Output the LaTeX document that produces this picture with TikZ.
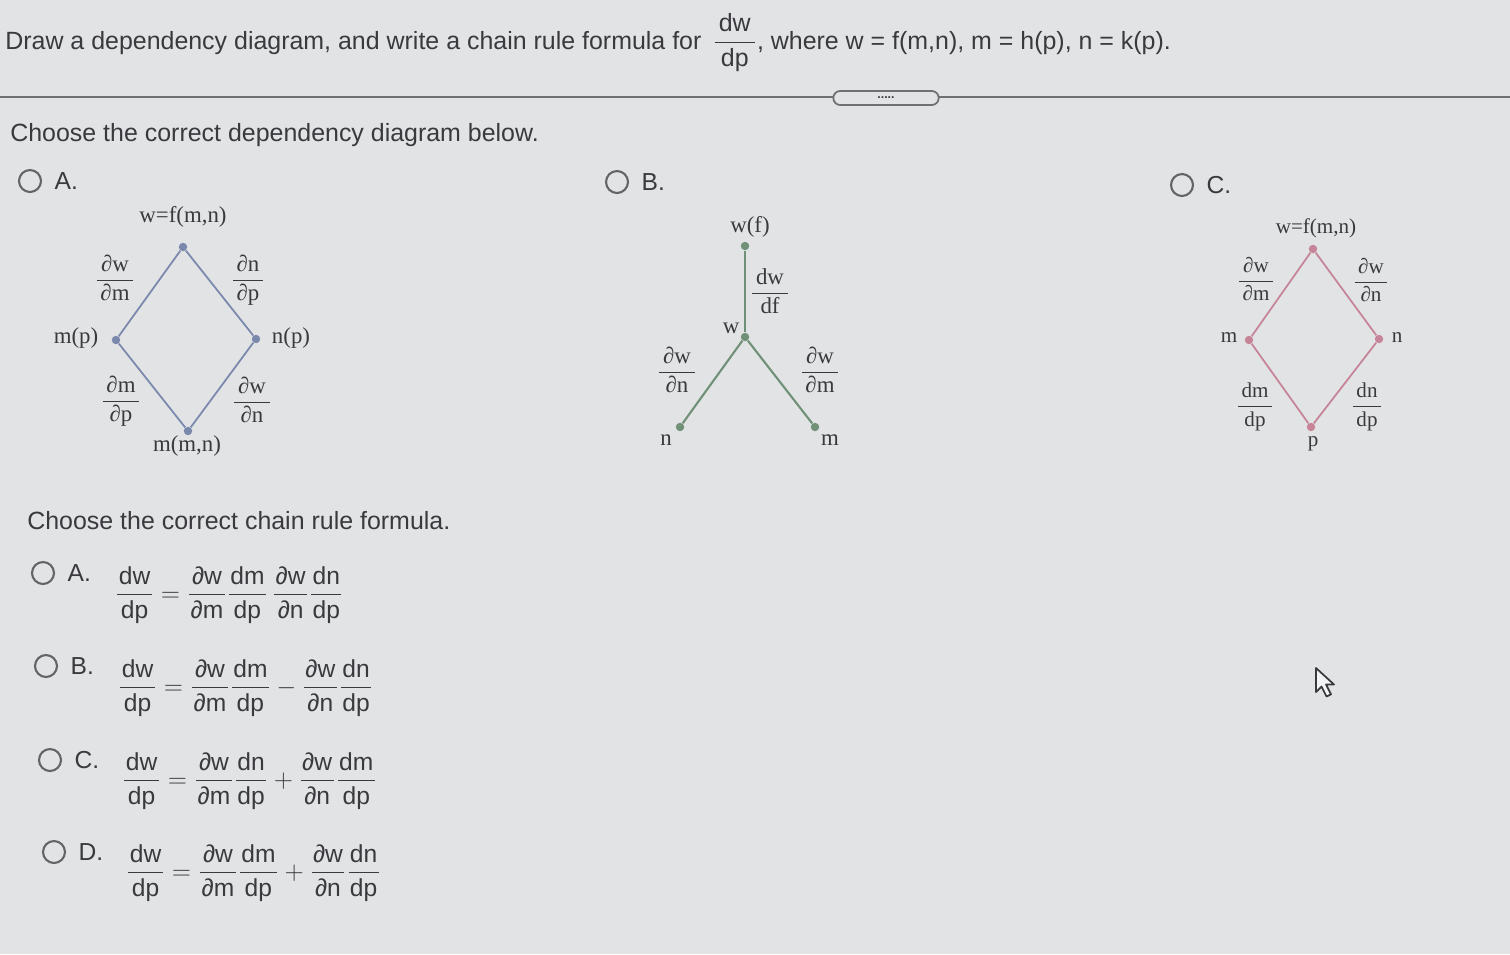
\documentclass[tikz,border=0pt]{standalone}
\usepackage{amsmath}
\usepackage{fontspec}
\setmainfont{Liberation Sans}
\newfontfamily\serfont{Liberation Serif}
\usetikzlibrary{positioning}
\definecolor{bgcol}{RGB}{226,227,229}
\definecolor{ink}{RGB}{58,58,62}
\definecolor{rulecol}{RGB}{112,112,115}
\definecolor{radiocol}{RGB}{100,100,104}
\definecolor{acol}{RGB}{122,136,172}
\definecolor{bcol}{RGB}{112,145,120}
\definecolor{ccol}{RGB}{198,132,152}
\newcommand{\fr}[2]{\ensuremath{\genfrac{}{}{0.5pt}{0}{\mbox{#1}}{\mbox{#2}}}}
\newcommand{\dfr}[2]{\fr{\,#1\,}{\,#2\,}}
\newcommand{\ffr}[2]{\fr{\kern0.8pt#1\kern0.8pt}{\kern0.8pt#2\kern0.8pt}}
\tikzstyle{every node}=[text=ink, inner sep=0pt]
\tikzstyle{txt}=[font=\fontsize{14.2}{17}\selectfont, anchor=base west]
\tikzstyle{radio}=[circle, draw=radiocol, line width=1.2pt, minimum size=12.5pt]
\tikzstyle{optlbl}=[font=\fontsize{14}{17}\selectfont, anchor=west]
\tikzstyle{formula}=[font=\fontsize{14}{17}\selectfont, anchor=west]
\tikzstyle{lbl}=[font=\serfont\fontsize{13}{15}\selectfont]
\tikzstyle{smlbl}=[font=\serfont\fontsize{12}{14}\selectfont]
\tikzstyle{dot}=[circle, fill, minimum size=4.8pt]

\begin{document}
\begin{tikzpicture}[x=0.02cm, y=-0.02cm]
% Background
    \fill[bgcol] (0,0) rectangle (1510,954);
    \useasboundingbox (0,0) rectangle (1510,954);
% Question
    \node[txt] (question) at (5,49) {Draw a dependency diagram, and write a chain rule formula for \,$\dfr{dw}{dp}$, where w = f(m,n), m = h(p), n = k(p).};
    \coordinate (ruleL) at (0,97);
    \coordinate (ruleR) at (1510,97);
    \draw[rulecol, line width=1.2pt] (ruleL) -- (ruleR);
    \node[draw=rulecol, fill=bgcol, line width=1pt, rounded corners=4pt, minimum width=60pt, minimum height=8pt, font=\scriptsize\bfseries] (more) at (886,98) {.....};
% Diagram choices
    \node[txt] (choosediag) at (10,141) {Choose the correct dependency diagram below.};
    \node[radio] (rA) at (30,181) {};
    \node[optlbl, right=7pt of rA] (lA) {A.};
    \node[radio] (rB) at (617,182) {};
    \node[optlbl, right=7pt of rB] (lB) {B.};
    \node[radio] (rC) at (1182,185) {};
    \node[optlbl, right=7pt of rC] (lC) {C.};
% Diagram A
    \node[dot, acol] (Atop) at (183,247) {};
    \node[dot, acol] (Aleft) at (116,340) {};
    \node[dot, acol] (Aright) at (256,339) {};
    \node[dot, acol] (Abot) at (188,431) {};
    \draw[acol, line width=1pt] (Atop) -- (Aleft) -- (Abot) -- (Aright) -- (Atop);
    \node[lbl] (Atoplbl) at (183,217) {w=f(m,n)};
    \node[lbl] (Aleftlbl) at (76,338) {m(p)};
    \node[lbl] (Arightlbl) at (291,338) {n(p)};
    \node[lbl] (Abotlbl) at (187,446) {m(m,n)};
    \node[lbl] (Afr1) at (115,278) {\dfr{∂w}{∂m}};
    \node[lbl] (Afr2) at (248,280) {\dfr{∂n}{∂p}};
    \node[lbl] (Afr3) at (121,401) {\dfr{∂m}{∂p}};
    \node[lbl] (Afr4) at (252,400) {\dfr{∂w}{∂n}};
% Diagram B
    \node[dot, bcol] (Btop) at (745,246) {};
    \node[dot, bcol] (Bmid) at (745,337) {};
    \node[dot, bcol] (Bleft) at (680,427) {};
    \node[dot, bcol] (Bright) at (815,427) {};
    \draw[bcol, line width=1.2pt] (Btop) -- (Bmid);
    \draw[bcol, line width=1.2pt] (Bmid) -- (Bleft);
    \draw[bcol, line width=1.2pt] (Bmid) -- (Bright);
    \node[lbl] (Btoplbl) at (750,227) {w(f)};
    \node[lbl] (Bmidlbl) at (731,328) {w};
    \node[lbl] (Bleftlbl) at (666,440) {n};
    \node[lbl] (Brightlbl) at (830,440) {m};
    \node[lbl] (Bfr1) at (770,291) {\dfr{dw}{df}};
    \node[lbl] (Bfr2) at (677,370) {\dfr{∂w}{∂n}};
    \node[lbl] (Bfr3) at (820,370) {\dfr{∂w}{∂m}};
% Diagram C
    \node[dot, ccol] (Ctop) at (1313,249) {};
    \node[dot, ccol] (Cleft) at (1249,340) {};
    \node[dot, ccol] (Cright) at (1379,339) {};
    \node[dot, ccol] (Cbot) at (1311,427) {};
    \draw[ccol, line width=1pt] (Ctop) -- (Cleft) -- (Cbot) -- (Cright) -- (Ctop);
    \node[smlbl] (Ctoplbl) at (1316,228) {w=f(m,n)};
    \node[smlbl] (Cleftlbl) at (1229,338) {m};
    \node[smlbl] (Crightlbl) at (1397,338) {n};
    \node[smlbl] (Cbotlbl) at (1313,444) {p};
    \node[smlbl] (Cfr1) at (1256,279) {\dfr{∂w}{∂m}};
    \node[smlbl] (Cfr2) at (1371,280) {\dfr{∂w}{∂n}};
    \node[smlbl] (Cfr3) at (1255,407) {\dfr{dm}{dp}};
    \node[smlbl] (Cfr4) at (1367,407) {\dfr{dn}{dp}};
% Formula choices
    \node[txt] (chooseform) at (27,529) {Choose the correct chain rule formula.};
    \node[radio] (fA) at (43,573) {};
    \node[optlbl, right=7pt of fA] (flA) {A.};
    \node[formula] (formA) at (115,595) {$\ffr{dw}{dp}=\ffr{∂w}{∂m}\ffr{dm}{dp}\,\ffr{∂w}{∂n}\ffr{dn}{dp}$};
    \node[radio] (fB) at (46,666) {};
    \node[optlbl, right=7pt of fB] (flB) {B.};
    \node[formula] (formB) at (118,688) {$\ffr{dw}{dp}=\ffr{∂w}{∂m}\ffr{dm}{dp}-\ffr{∂w}{∂n}\ffr{dn}{dp}$};
    \node[radio] (fC) at (50,760) {};
    \node[optlbl, right=7pt of fC] (flC) {C.};
    \node[formula] (formC) at (122,781) {$\ffr{dw}{dp}=\ffr{∂w}{∂m}\ffr{dn}{dp}+\ffr{∂w}{∂n}\ffr{dm}{dp}$};
    \node[radio] (fD) at (54,852) {};
    \node[optlbl, right=7pt of fD] (flD) {D.};
    \node[formula] (formD) at (126,873) {$\ffr{dw}{dp}=\ffr{∂w}{∂m}\ffr{dm}{dp}+\ffr{∂w}{∂n}\ffr{dn}{dp}$};
% Pointer
    \draw[ink, line width=1pt, fill=white!60!bgcol, line join=round] (1316,668) -- ++(0,24) -- ++(5.5,-5.5) -- ++(5,10) -- ++(4.5,-2.2) -- ++(-5,-9.8) -- ++(8,0) -- cycle;
\end{tikzpicture}
\end{document}
